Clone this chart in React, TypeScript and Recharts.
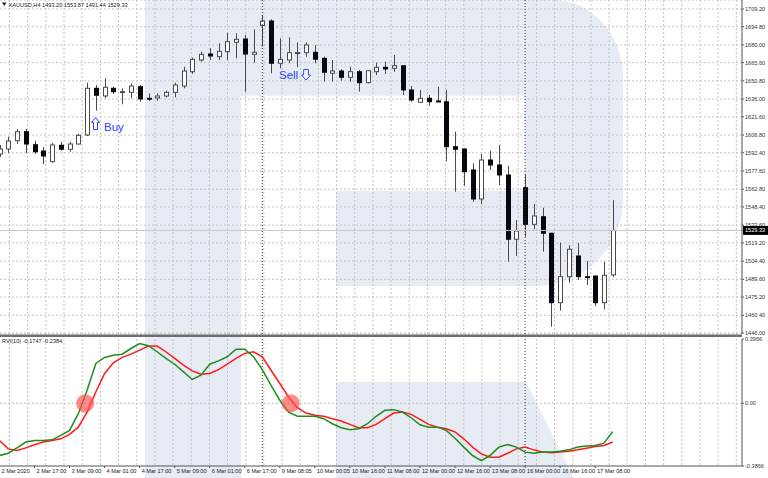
import {
  ComposedChart,
  Bar,
  Line,
  XAxis,
  YAxis,
  CartesianGrid,
  ReferenceLine,
  ReferenceDot,
} from 'recharts';

const symbol = 'XAUUSD,H4';

// H4 candles
const opens = [
  1591.42, 1595.48, 1602.22, 1609.53, 1598.97, 1593.85, 1585.17, 1598.49, 1595.24, 1599.54,
  1606.85, 1644.78, 1638.53, 1644.78, 1642.02, 1641.54, 1646.08, 1636.66, 1636.9, 1638.53,
  1641.54, 1646.65, 1658.27, 1667.77, 1672.65, 1670.45, 1674.51, 1682.15, 1684.83, 1672.4,
  1695.8, 1699.45, 1665.09, 1667.77, 1673.6, 1673.7, 1674.03, 1669.15, 1656.97, 1658.84,
  1653.72, 1658.27, 1649.33, 1658.27, 1661.84, 1661.03, 1663.14, 1643.4, 1633.41, 1636.66,
  1634.5, 1633.9, 1597.35, 1595.48, 1578.42, 1554.86, 1586.54, 1582.48, 1574.36, 1522.13,
  1564.04, 1534.31, 1540.5, 1526.99, 1470.63, 1491.75, 1508.56, 1491.8, 1492.3, 1470.63,
  1493.2,
];
const highs = [
  1598.73, 1605.47, 1611.72, 1611.72, 1602.22, 1597.1, 1600.35, 1601.41, 1601.41, 1607.66,
  1649.33, 1647.46, 1652.91, 1646.08, 1644.78, 1648.85, 1647.46, 1640.72, 1640.72, 1642.84,
  1649.33, 1662.33, 1669.64, 1674.51, 1677.28, 1681.34, 1689.95, 1689.46, 1688.08, 1692.71,
  1703.76, 1700.83, 1685.4, 1686.21, 1682.15, 1682.15, 1679.96, 1670.45, 1667.77, 1660.22,
  1662.33, 1659.6, 1659.6, 1665.58, 1666.39, 1671.83, 1663.5, 1646.65, 1643.4, 1639.34,
  1646.08, 1643.4, 1609.53, 1596.0, 1583.86, 1591.42, 1594.09, 1598.73, 1581.67, 1537.8,
  1574.93, 1550.8, 1547.79, 1527.5, 1519.37, 1517.5, 1518.88, 1504.5, 1492.5, 1503.93,
  1553.87,
];
const lows = [
  1588.98, 1592.23, 1599.54, 1592.23, 1591.42, 1583.29, 1584.36, 1594.09, 1593.28, 1599.0,
  1606.0, 1626.59, 1636.66, 1640.15, 1631.79, 1636.66, 1633.9, 1634.71, 1634.71, 1637.47,
  1637.47, 1644.78, 1656.4, 1666.39, 1667.77, 1667.77, 1667.77, 1669.15, 1642.02, 1665.58,
  1678.58, 1656.97, 1661.03, 1665.09, 1661.84, 1670.45, 1665.09, 1650.14, 1650.14, 1650.96,
  1650.14, 1642.02, 1648.8, 1655.59, 1656.4, 1658.27, 1639.34, 1633.9, 1633.0, 1630.65,
  1633.9, 1585.73, 1560.79, 1565.43, 1552.67, 1550.8, 1578.42, 1566.24, 1503.93, 1508.56,
  1524.24, 1530.26, 1512.05, 1451.13, 1464.13, 1486.87, 1489.07, 1485.0, 1467.95, 1465.28,
  1491.44,
];
const closes = [
  1595.48, 1601.97, 1609.53, 1599.54, 1593.28, 1589.79, 1598.73, 1595.24, 1599.54, 1606.61,
  1644.78, 1639.1, 1645.6, 1642.02, 1642.1, 1646.65, 1636.09, 1636.5, 1638.53, 1641.54,
  1647.46, 1658.84, 1668.34, 1672.4, 1671.02, 1674.84, 1682.64, 1684.59, 1672.65, 1674.03,
  1699.45, 1665.09, 1668.34, 1673.7, 1673.8, 1679.96, 1668.34, 1657.78, 1658.84, 1653.72,
  1658.27, 1649.33, 1659.08, 1661.84, 1660.46, 1663.14, 1643.4, 1635.28, 1636.66, 1633.9,
  1634.4, 1597.35, 1595.24, 1577.03, 1554.86, 1586.54, 1582.48, 1574.36, 1522.13, 1528.87,
  1534.31, 1541.04, 1526.99, 1470.63, 1491.75, 1514.0, 1491.75, 1491.7, 1470.63, 1492.88,
  1529.33,
];

// RVI(10): main (green) and signal (red)
const rviMain = [
  -0.322, -0.308, -0.275, -0.239, -0.229, -0.229, -0.225, -0.198, -0.167, -0.064,
  0.08, 0.246, 0.283, 0.297, 0.303, 0.338, 0.369, 0.355, 0.318, 0.277,
  0.241, 0.194, 0.147, 0.173, 0.241, 0.262, 0.287, 0.334, 0.334, 0.287,
  0.208, 0.111, 0.019, -0.054, -0.08, -0.08, -0.08, -0.095, -0.126, -0.151,
  -0.163, -0.157, -0.126, -0.08, -0.043, -0.039, -0.054, -0.089, -0.132, -0.147,
  -0.147, -0.167, -0.215, -0.27, -0.322, -0.353, -0.322, -0.27, -0.254, -0.27,
  -0.301, -0.308, -0.301, -0.301, -0.295, -0.287, -0.27, -0.264, -0.26, -0.246,
  -0.1747,
];
const rviSignal = [
  -0.229, -0.281, -0.291, -0.275, -0.256, -0.239, -0.229, -0.219, -0.192, -0.147,
  -0.054, 0.07, 0.184, 0.25, 0.283, 0.303, 0.328, 0.353, 0.353, 0.318,
  0.277, 0.235, 0.2, 0.18, 0.184, 0.208, 0.241, 0.277, 0.308, 0.318,
  0.287, 0.204, 0.122, 0.039, -0.027, -0.06, -0.074, -0.08, -0.095, -0.109,
  -0.13, -0.151, -0.151, -0.13, -0.095, -0.06, -0.054, -0.068, -0.099, -0.13,
  -0.147, -0.157, -0.177, -0.219, -0.27, -0.312, -0.332, -0.332, -0.308, -0.281,
  -0.27, -0.287, -0.301, -0.305, -0.301, -0.295, -0.287, -0.277, -0.266, -0.26,
  -0.2384,
];

const priceTicks = [
  1709.2, 1694.8, 1680.0, 1665.6, 1650.8, 1636.0, 1621.6, 1606.8, 1592.4, 1577.6,
  1562.8, 1548.4, 1533.6, 1519.2, 1504.4, 1489.6, 1475.2, 1460.4, 1446.0,
];
const rviTicks = [0.3966, 0, -0.3866];

const timeSlots = [0, 4, 8, 12, 16, 20, 24, 28, 32, 36, 40, 44, 48, 52, 56, 60, 64, 68];
const timeLabels = [
  '2 Mar 2020', '2 Mar 17:00', '3 Mar 09:00', '4 Mar 01:00', '4 Mar 17:00', '5 Mar 09:00',
  '6 Mar 01:00', '6 Mar 17:00', '9 Mar 08:05', '10 Mar 00:05', '10 Mar 16:00', '11 Mar 08:00',
  '12 Mar 00:00', '12 Mar 16:00', '13 Mar 08:00', '16 Mar 00:00', '16 Mar 16:00', '17 Mar 08:00',
];

// period separators and the two RVI zero crossings
const separatorSlots = [30, 60];
const crossSlots = [9.78, 33.25];

const slotDomain: [number, number] = [0.06, 84.76];
const priceDomain: [number, number] = [1445.19, 1716.51];
const rviDomain: [number, number] = [-0.3866, 0.3966];

const candles = opens.map((open, i) => ({
  i,
  open,
  high: highs[i],
  low: lows[i],
  close: closes[i],
  range: [lows[i], highs[i]],
}));
const rviRows = rviMain.map((main, i) => ({ i, main, signal: rviSignal[i] }));
const lastClose = closes[closes.length - 1];

const gridXs = Array.from({ length: 41 }, (_, k) => 9.5 + k * 18.17);
const FONT = '"Liberation Sans", Arial, sans-serif';
const SMALL = 5.6;
const WATER = '#e6ebf4';
const BLUE = '#2f3dff';

function Candle(props: any) {
  const { x, y, width, height, payload } = props;
  const { open, close, high, low } = payload;
  const c = Math.round(x + width / 2);
  const k = height / (high - low || 1);
  const py = (p: number) => y + (high - p) * k;
  const top = py(Math.max(open, close));
  const bottom = py(Math.min(open, close));
  const h = Math.max(bottom - top, 1);
  return (
    <g>
      <line x1={c + 0.5} x2={c + 0.5} y1={y} y2={y + height} stroke='#4a4a4a' />
      {close >= open ? (
        <rect x={c - 1.5} y={top} width={4} height={h} fill='#fff' stroke='#4a4a4a' />
      ) : (
        <rect x={c - 2} y={top - 0.5} width={5} height={h + 1} fill='#05080c' />
      )}
    </g>
  );
}

function PriceTick({ x, y, payload }: any) {
  const label = payload.value.toFixed(2);
  if (payload.value === lastClose) {
    return (
      <g>
        <rect x={x - 2} y={y - 4.5} width={27} height={9} fill='#000' />
        <text x={x} y={y} dy='0.35em' fontSize={SMALL} fontFamily={FONT} fill='#fff'>
          {label}
        </text>
      </g>
    );
  }
  return (
    <text x={x} y={y} dy='0.35em' fontSize={SMALL} fontFamily={FONT} fill='#333'>
      {label}
    </text>
  );
}

function RviTick({ x, y, payload }: any) {
  const v = payload.value;
  return (
    <text x={x} y={y} dy='0.35em' fontSize={SMALL} fontFamily={FONT} fill='#333'>
      {v === 0 ? '0.00' : v.toFixed(4)}
    </text>
  );
}

function TimeTick({ x, y, payload }: any) {
  const idx = timeSlots.indexOf(payload.value);
  return (
    <text x={x + 2} y={y} dy='0.71em' fontSize={SMALL} fontFamily={FONT} fill='#222'>
      {timeLabels[idx]}
    </text>
  );
}

export default function App() {
  const header = `${symbol}  ${opens[70].toFixed(2)} ${highs[70].toFixed(2)} ${lows[70].toFixed(2)} ${closes[70].toFixed(2)}`;
  const rviLabel = `RVI(10) ${rviMain[rviMain.length - 1].toFixed(4)} ${rviSignal[rviSignal.length - 1].toFixed(4)}`;

  return (
    <div
      style={{
        position: 'absolute',
        left: 0,
        top: 0,
        width: 768,
        height: 478,
        background: '#fff',
        overflow: 'hidden',
      }}
    >
      {/* watermark */}
      <svg width={768} height={478} style={{ position: 'absolute', left: 0, top: 0 }}>
        <rect x={145} y={0} width={96} height={478} fill={WATER} />
        <path
          d='M241 0 H553 A70 77 0 0 1 623 77 V200 A88 86 0 0 1 535 286 H336 V191 H525 V95.7 H241 Z'
          fill={WATER}
        />
        <path d='M336 382 H526 L574 478 H336 Z' fill={WATER} />
      </svg>

      <div style={{ position: 'absolute', left: 0, top: 0 }}>
        <ComposedChart
          width={768}
          height={338}
          data={candles}
          margin={{ top: 0, right: 0, bottom: 4, left: 0 }}
        >
          <CartesianGrid stroke='#c4c4c4' strokeDasharray='2 2' verticalPoints={gridXs} />
          <XAxis type='number' dataKey='i' domain={slotDomain} hide allowDataOverflow />
          <YAxis
            orientation='right'
            width={26}
            domain={priceDomain}
            allowDataOverflow
            ticks={[...priceTicks, lastClose]}
            interval={0}
            tick={<PriceTick />}
            tickSize={2}
            tickMargin={1}
            axisLine={{ stroke: '#555' }}
            tickLine={{ stroke: '#555' }}
          />
          <ReferenceLine y={lastClose} stroke='#c8c8c8' />
          {separatorSlots.map(s => (
            <ReferenceLine key={s} x={s} stroke='#333' strokeDasharray='1 2' />
          ))}
          <Bar dataKey='range' barSize={5} shape={<Candle />} isAnimationActive={false} />
        </ComposedChart>
      </div>

      <div style={{ position: 'absolute', left: 0, top: 337 }}>
        <ComposedChart
          width={768}
          height={141}
          data={rviRows}
          margin={{ top: 2, right: 0, bottom: 0, left: 0 }}
        >
          <CartesianGrid
            stroke='#c4c4c4'
            strokeDasharray='2 2'
            horizontal={false}
            verticalPoints={gridXs}
          />
          <XAxis
            type='number'
            dataKey='i'
            domain={slotDomain}
            allowDataOverflow
            ticks={timeSlots}
            interval={0}
            tick={<TimeTick />}
            height={12}
            tickSize={2}
            tickMargin={1}
            axisLine={{ stroke: '#555' }}
            tickLine={{ stroke: '#555' }}
          />
          <YAxis
            orientation='right'
            width={26}
            domain={rviDomain}
            allowDataOverflow
            ticks={rviTicks}
            interval={0}
            tick={<RviTick />}
            tickSize={2}
            tickMargin={1}
            axisLine={{ stroke: '#555' }}
            tickLine={{ stroke: '#555' }}
          />
          <ReferenceLine y={0} stroke='#c4c4c4' strokeDasharray='2 2' />
          {separatorSlots.map(s => (
            <ReferenceLine key={s} x={s} stroke='#333' strokeDasharray='1 2' />
          ))}
          <Line
            dataKey='signal'
            stroke='#ff1a1a'
            strokeWidth={1.5}
            dot={false}
            isAnimationActive={false}
          />
          <Line
            dataKey='main'
            stroke='#1e8c1e'
            strokeWidth={1.5}
            dot={false}
            isAnimationActive={false}
          />
          {crossSlots.map(s => (
            <ReferenceDot
              key={s}
              x={s}
              y={0}
              r={9}
              fill='#ff4d4d'
              fillOpacity={0.65}
              stroke='none'
            />
          ))}
        </ComposedChart>
      </div>

      {/* labels and annotations */}
      <svg
        width={768}
        height={478}
        style={{ position: 'absolute', left: 0, top: 0, pointerEvents: 'none' }}
      >
        <rect x={0} y={334.5} width={742} height={2.5} fill='#6f6f6f' />
        <path d='M2 2.5 H6.5 L4.25 6 Z' fill='#222' />
        <text x={8.5} y={6.5} fontSize={SMALL} fontFamily={FONT} fill='#222'>
          {header}
        </text>
        <text x={2} y={343} fontSize={SMALL} fontFamily={FONT} fill='#222'>
          {rviLabel}
        </text>

        <path
          d='M95.5 117.5 L99.5 122.5 H97.5 V129.5 H93.5 V122.5 H91.5 Z'
          fill='#fff'
          stroke={BLUE}
          strokeWidth={1}
        />
        <text x={104} y={130.8} fontSize={11.5} fontFamily={FONT} fill={BLUE}>
          Buy
        </text>

        <text x={279} y={78.5} fontSize={11.5} fontFamily={FONT} fill={BLUE}>
          Sell
        </text>
        <path
          d='M306 80 L310.5 75 H308.3 V69.5 H303.7 V75 H301.5 Z'
          fill='#fff'
          stroke={BLUE}
          strokeWidth={1}
        />
      </svg>
    </div>
  );
}
